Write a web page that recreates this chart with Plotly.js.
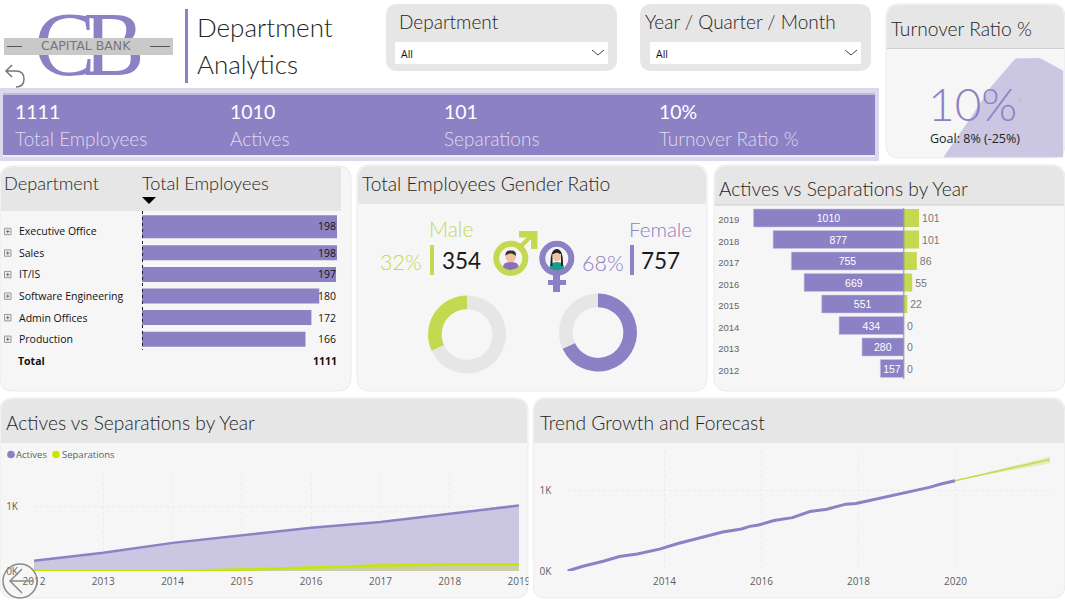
<!DOCTYPE html>
<html><head><meta charset="utf-8">
<script src="https://cdn.plot.ly/plotly-3.0.1.min.js"></script>
<style>html,body{margin:0;padding:0;background:#fff;overflow:hidden}</style></head>
<body><div id="chart" style="width:1065px;height:603px"></div>
<script>
// ---- data ----
const departments = ['Executive Office','Sales','IT/IS','Software Engineering','Admin Offices','Production'];
const deptEmployees = [198,198,197,180,172,166];
const totalEmployees = 1111;
const genderLabels = ['Male','Female'];
const genderCounts = [354,757];
const funnelYears = ['2019','2018','2017','2016','2015','2014','2013','2012'];
const funnelActives = [1010,877,755,669,551,434,280,157];
const funnelSeparations = [101,101,86,55,22,0,0,0];
const areaYears = [2012,2013,2014,2015,2016,2017,2018,2019];
const areaActives = [157,280,434,551,669,755,877,1010];
const areaSeparations = [0,0,0,22,55,86,101,101];
const trendYears = [2012.0,2012.32,2012.74,2013.07,2013.44,2013.9,2014.28,2014.78,2015.2,2015.59,2015.76,2015.94,2016.26,2016.64,2017.0,2017.35,2017.74,2017.95,2018.51,2019.0,2019.46,2019.7,2019.99];
const trendValues = [0,59,121,180,213,272,343,423,485,523,556,573,628,665,741,770,833,841,916,983,1042,1084,1125];
const forecastYears = [2019.99,2021.95];
const forecastValues = [1125,1390];
const forecastUpper = [1125,1427];
const forecastLower = [1125,1343];
const turnoverYears = [2014,2015,2016,2017,2018,2019];
const turnoverPct = [0,4,8.2,11.4,11.5,10];
const kpiValues = ['1111','1010','101','10%'];
const kpiLabels = ['Total Employees','Actives','Separations','Turnover Ratio %'];

// ---- style ----
const PURPLE='#8c81c4', GREEN='#c4d94f', LIME='#c8e600', LILAC='#cbc6e2', HEAD='#e6e6e6', CARD='#f6f6f6', INK='#252423', GREY='#605e5c';
const W=1065,H=603, UI='Lato, "Open Sans", sans-serif', UI2='"Open Sans", sans-serif';
const X=x=>x/W, Y=y=>1-y/H;
const dx=(a,b)=>[X(a),X(b)], dy=(top,bot)=>[Y(bot),Y(top)];

function pth(s){ // pixel path -> paper path
  let i=0; return s.replace(/-?\d+(\.\d+)?/g,m=>{const v=+m; return ((i++%2===0)?X(v):Y(v)).toFixed(5);});
}
function rr(x0,y0,x1,y1,tl,tr,br,bl){
  return pth(`M${x0+tl} ${y0} L${x1-tr} ${y0} Q${x1} ${y0} ${x1} ${y0+tr} L${x1} ${y1-br} Q${x1} ${y1} ${x1-br} ${y1} L${x0+bl} ${y1} Q${x0} ${y1} ${x0} ${y1-bl} L${x0} ${y0+tl} Q${x0} ${y0} ${x0+tl} ${y0} Z`);
}
const shapes=[], annotations=[];
function path(d,fill,line,lw,layer){shapes.push({type:'path',xref:'paper',yref:'paper',path:pth(d),fillcolor:fill||'rgba(0,0,0,0)',line:{color:line||'rgba(0,0,0,0)',width:lw||0},layer:layer||'below'});}
function rect(x0,y0,x1,y1,fill,layer){shapes.push({type:'rect',xref:'paper',yref:'paper',x0:X(x0),x1:X(x1),y0:Y(y0),y1:Y(y1),fillcolor:fill,line:{width:0},layer:layer||'below'});}
function circ(cx,cy,r,fill,line,lw,layer){shapes.push({type:'circle',xref:'paper',yref:'paper',x0:X(cx-r),x1:X(cx+r),y0:Y(cy-r),y1:Y(cy+r),fillcolor:fill||'rgba(0,0,0,0)',line:{color:line||'rgba(0,0,0,0)',width:lw||0},layer:layer||'below'});}
function seg(x0,y0,x1,y1,color,lw,dash,layer){shapes.push({type:'line',xref:'paper',yref:'paper',x0:X(x0),x1:X(x1),y0:Y(y0),y1:Y(y1),line:{color,width:lw,dash:dash||'solid'},layer:layer||'below'});}
function T(text,x,y,size,color,o){o=o||{};annotations.push({text,x:X(x),y:Y(y),xref:'paper',yref:'paper',xanchor:o.a||'left',yanchor:'middle',showarrow:false,borderpad:0,borderwidth:0,
  font:{family:o.f||UI,size,color,weight:o.w||400}});}
function card(x0,y0,x1,y1,headBot,r,headRight){
  shapes.push({type:'path',xref:'paper',yref:'paper',path:rr(x0,y0,x1,y1,r,r,r,r),fillcolor:CARD,line:{color:'#ebebeb',width:1},layer:'below'});
  shapes.push({type:'path',xref:'paper',yref:'paper',path:rr(x0+1,y0+1,(headRight||x1)-1,headBot,r,headRight?0:r,0,0),fillcolor:HEAD,line:{width:0},layer:'below'});
}
function rrFill(x0,y0,x1,y1,r,fill,layer){shapes.push({type:'path',xref:'paper',yref:'paper',path:rr(x0,y0,x1,y1,r,r,r,r),fillcolor:fill,line:{width:0},layer:layer||'below'});}

// ---- header area ----
rect(185,9,188,83,PURPLE);
T('Department',197,27.5,26,INK,{w:300});
T('Analytics',197,63.5,26,INK,{w:300});
// logo band (above the serif letters)
rect(4,38,173,55,'#c9c9c9','above');
seg(7,46.5,22,46.5,'#555',1,'solid','above');
seg(150,46.5,170,46.5,'#555',1,'solid','above');
T('CAPITAL BANK',86,45.5,12.5,'#777777',{a:'center',f:'"DejaVu Sans"'});
// undo arrow
path('M12 65 L6 71 L12 77 M6 71 L16 71 Q24 71 24 79 Q24 87 16 87','',"#777",1.5,'above');

// slicers
[[386,617,395,608,'Department',399],[640,871,650,861,'Year / Quarter / Month',645]].forEach(s=>{
  rrFill(s[0],4,s[1],71,12,HEAD);
  rect(s[2],42,s[3],64,'#ffffff');
  T(s[4],s[5],21.5,19,INK,{w:300});
  T('All',s[2]+6,54,10.5,'#111',{f:UI2});
  path(`M${s[3]-16} 50 L${s[3]-10} 55 L${s[3]-4} 50`,'','#444',1);
});

// KPI strip
rect(0,88,879,161,'#dcd9ed');
rect(3,93,875,155,PURPLE);
seg(3,156,875,156,'#ffffff',1);
seg(3,94,875,94,'#f3f2fa',1);
[14.5,229.5,443.5,658.5].forEach((x,i)=>{
  T(kpiValues[i],x,111.5,19.5,'#ffffff',{w:400});
  T(kpiLabels[i],x,138.5,19,'#dedbf0',{w:300});
});

// Turnover card
card(886,4,1065,158,48,13);
seg(887,48.5,1064,48.5,'#cfcfcf',1);
T('Turnover Ratio %',891,28,19.2,INK,{w:300});
T('10%',972,103,46,PURPLE,{a:'center',w:300});
T('!',1019.5,100,12,'#b5aed9',{a:'center',w:300});
T('Goal: 8% (-25%)',975,138,12.5,INK,{a:'center',f:UI2});

// Department table card
card(0,166,351,391,211,13,342);
T('Department',4,183,18.2,INK,{w:300});
T('Total Employees',142,183,18.2,INK,{w:300});
path('M142 197 L156 197 L149 204 Z','#000');
departments.forEach((d,i)=>{
  annotations.push({text:d,x:X(17.5),xref:'paper',y:d,yref:'y',xanchor:'left',yanchor:'middle',showarrow:false,borderpad:0,font:{family:UI2,size:10.5,color:'#111'}});
  annotations.push({text:String(deptEmployees[i]),x:X(337),xref:'paper',y:d,yref:'y',yshift:i===0?5:0,xanchor:'right',yanchor:'middle',showarrow:false,borderpad:0,font:{family:UI2,size:10.5,color:'#111'}});
  const cy=231.5+21.55*i;
  shapes.push({type:'rect',xref:'paper',yref:'paper',x0:X(4.5),x1:X(11),y0:Y(cy-3.2),y1:Y(cy+3.2),fillcolor:'#eeeeee',line:{color:'#999',width:1},layer:'below'});
  seg(6,cy,9.5,cy,'#777',1); seg(7.75,cy-1.8,7.75,cy+1.8,'#777',1);
});
T('Total',18,361,10.5,'#111',{w:700,f:UI2});
T(String(totalEmployees),337,361,10.5,'#111',{a:'right',w:700,f:UI2});
seg(142.5,211,142.5,350,'#222',1,'dot','above');

// Gender card
card(357,165,707,391,204,13);
T('Total Employees Gender Ratio',362,184,19.2,INK,{w:300});
T('Male',451,229,21,GREEN,{a:'center',w:300});
T('32%',400.5,262,21.5,GREEN,{a:'center',w:300});
rect(430,245,434,275,GREEN);
T(String(genderCounts[0]),442,260.5,22.5,'#1a1a1a',{w:400});
T('Female',660,229,20.5,PURPLE,{a:'center',w:300});
T('68%',603,263,21.5,PURPLE,{a:'center',w:300});
rect(630,245,634,275,PURPLE);
T(String(genderCounts[1]),641,260.5,22.5,'#1a1a1a',{w:400});
// male symbol
seg(519,248,532,235,GREEN,4.5);
path('M519 231 L537.5 231 L537.5 249 L531 249 L531 237.5 L519 237.5 Z',GREEN);
circ(510.8,258.3,14.5,'#f4f4f4',GREEN,6);
// female symbol
rect(553,274,560,292,PURPLE);
rect(548,280,566,285,PURPLE);
circ(556.8,258.3,14.5,'#f4f4f4',PURPLE,6);
// faces
path('M503 267 Q503 262 510.8 262 Q518.6 262 518.6 267 Q515 270 510.8 270 Q506 270 503 267 Z','#8c6fb5');
circ(510.8,257,5.2,'#f2c2a0');
path('M505.5 256 Q505 250 510.8 250.5 Q516.5 250 516 256 Q513 253 510.8 253.5 Q508 253 505.5 256 Z','#333');
path('M549.5 268 Q549.5 262 556.8 262 Q564 262 564 268 Q560 270.5 556.8 270.5 Q553 270.5 549.5 268 Z','#1c9a8e');
path('M550.5 266 Q550 249 556.8 249 Q563.5 249 563 266 L561 266 L561 254 L552.5 254 L552.5 266 Z','#222');
circ(556.8,257,4.2,'#f2c2a0');

// Funnel card
card(714,165,1065,391,205,13);
seg(715,205,1064,205,'#cfcfcf',1);
T('Actives vs Separations by Year',719,188,19.2,INK,{w:300});
seg(903.8,208,903.8,379,'#8a8a8a',1,'solid','above');

// Area card
card(0,398,528,598,443,13);
T('Actives vs Separations by Year',6,422,19.2,INK,{w:300});
circ(11,454.5,3.8,PURPLE);
T('Actives',16,454.5,9.5,GREY,{f:UI2});
circ(56,454.5,3.8,LIME);
T('Separations',62,454.5,9.5,GREY,{f:UI2});
rect(528.5,560,533,599,'#ffffff','above');
circ(20,581,17,'rgba(255,255,255,0.05)','#8a8a8a',1.5,'above');
path('M22 569 L10 581 L22 593 M10 581 L34 581','','#8a8a8a',1.5,'above');

// Trend card
card(533,398,1065,598,443,13);
T('Trend Growth and Forecast',540,422,19.2,INK,{w:300});

// ---- traces ----
const axisBase={fixedrange:true,showline:false,zeroline:false,showgrid:false,ticks:''};
const tickF={family:UI2,size:10,color:GREY};
const gridC='#ebebeb';
const data=[
 // logo letters
 {type:'scatter',mode:'text',xaxis:'x7',yaxis:'y7',x:[65,114],y:[51.5,51.5],text:['C','B'],textposition:'middle center',cliponaxis:false,textfont:{family:'"Liberation Serif"',size:92,color:PURPLE},hoverinfo:'skip'},
 // KPI sparkline
 {type:'scatter',mode:'lines',xaxis:'x6',yaxis:'y6',x:turnoverYears,y:turnoverPct,fill:'tozeroy',fillcolor:LILAC,line:{color:LILAC,width:0.5},hoverinfo:'skip'},
 // department bars
 {type:'bar',orientation:'h',xaxis:'x',yaxis:'y',y:departments,x:deptEmployees,width:departments.map((d,i)=>i===0?23/21.6:15/21.6),offset:departments.map((d,i)=>i===0?-0.74:-15/43.2),marker:{color:PURPLE},hoverinfo:'skip'},
 // funnel
 {type:'bar',orientation:'h',xaxis:'x2',yaxis:'y2',y:funnelYears,x:funnelActives,width:0.84,marker:{color:PURPLE,line:{color:'#c9c5e2',width:0.6}},text:funnelActives.map(String),textposition:'inside',insidetextanchor:'middle',textangle:0,constraintext:'none',textfont:{family:'"Liberation Sans"',size:10.5,color:'#ffffff'},cliponaxis:false,hoverinfo:'skip'},
 {type:'bar',orientation:'h',xaxis:'x3',yaxis:'y3',y:funnelYears,x:funnelSeparations,width:0.84,marker:{color:GREEN},text:funnelSeparations.map(String),textposition:'outside',textangle:0,constraintext:'none',textfont:{family:'"Liberation Sans"',size:10.5,color:'#777'},cliponaxis:false,hoverinfo:'skip'},
 // area chart
 {type:'scatter',mode:'lines',name:'Actives',xaxis:'x4',yaxis:'y4',x:areaYears,y:areaActives,fill:'tozeroy',fillcolor:LILAC,line:{color:PURPLE,width:2.5},cliponaxis:false,hoverinfo:'skip'},
 {type:'scatter',mode:'lines',name:'Separations',xaxis:'x4',yaxis:'y4',x:areaYears,y:areaSeparations,fill:'tozeroy',fillcolor:'rgba(200,230,0,0.25)',line:{color:LIME,width:2.5},cliponaxis:false,hoverinfo:'skip'},
 // trend
 {type:'scatter',mode:'lines',xaxis:'x5',yaxis:'y5',x:forecastYears,y:forecastLower,line:{color:'rgba(0,0,0,0)',width:0},hoverinfo:'skip'},
 {type:'scatter',mode:'lines',xaxis:'x5',yaxis:'y5',x:forecastYears,y:forecastUpper,fill:'tonexty',fillcolor:'rgba(196,217,79,0.35)',line:{color:'rgba(0,0,0,0)',width:0},hoverinfo:'skip'},
 {type:'scatter',mode:'lines',xaxis:'x5',yaxis:'y5',x:forecastYears,y:forecastValues,line:{color:GREEN,width:1.5},hoverinfo:'skip'},
 {type:'scatter',mode:'lines',xaxis:'x5',yaxis:'y5',x:trendYears,y:trendValues,line:{color:PURPLE,width:3},hoverinfo:'skip'},
 // donuts (the coloured slice closes at twelve o'clock on the male ring)
 {type:'pie',labels:['Other',genderLabels[0]],values:[genderCounts[1],genderCounts[0]],hole:0.65,sort:false,direction:'clockwise',rotation:0,textinfo:'none',hoverinfo:'skip',marker:{colors:[HEAD,GREEN]},domain:{x:dx(428,506),y:dy(295.5,373.5)}},
 {type:'pie',labels:[genderLabels[1],'Other'],values:[genderCounts[1],genderCounts[0]],hole:0.65,sort:false,direction:'clockwise',rotation:0,textinfo:'none',hoverinfo:'skip',marker:{colors:[PURPLE,HEAD]},domain:{x:dx(559,637),y:dy(293.5,371.5)}}
];

const layout={
 width:W,height:H,autosize:false,margin:{l:0,r:0,t:0,b:0},paper_bgcolor:'#ffffff',plot_bgcolor:'rgba(0,0,0,0)',showlegend:false,
 shapes,annotations,bargap:0.16,
 xaxis:{...axisBase,domain:dx(142,337),range:[0,198],showticklabels:false},
 yaxis:{...axisBase,domain:dy(209.6,350),type:'category',categoryorder:'array',categoryarray:departments,range:[5.5,-1],showticklabels:false},
 xaxis2:{...axisBase,domain:dx(753.3,903.7),range:[1010,0],anchor:'y2',showticklabels:false},
 yaxis2:{...axisBase,domain:dy(207.25,379.25),anchor:'x2',type:'category',categoryorder:'array',categoryarray:funnelYears,range:[7.5,-0.5],ticklabelstandoff:13,ticklabelshift:-2,tickfont:{family:'"Liberation Sans"',size:9.5,color:'#666'}},
 xaxis3:{...axisBase,domain:dx(904,1004),range:[0,671],anchor:'y3',showticklabels:false},
 yaxis3:{...axisBase,domain:dy(207.25,379.25),anchor:'x3',type:'category',categoryorder:'array',categoryarray:funnelYears,range:[7.5,-0.5],showticklabels:false},
 xaxis4:{...axisBase,domain:dx(34,519),range:[2012,2019],anchor:'y4',tickvals:areaYears,ticktext:areaYears.map(String),tickfont:tickF,showgrid:true,gridcolor:gridC,griddash:'dot',ticklabelstandoff:3},
 yaxis4:{...axisBase,domain:dy(476,571),range:[0,1466],anchor:'x4',tickvals:[0,1000],ticktext:['0K','1K'],tickfont:tickF,showgrid:true,gridcolor:gridC,griddash:'dot',ticklabelstandoff:15},
 xaxis5:{...axisBase,domain:dx(567.4,1050),range:[2012,2021.95],anchor:'y5',tickvals:[2014,2016,2018,2020],ticktext:['2014','2016','2018','2020'],tickfont:tickF,showgrid:true,gridcolor:gridC,griddash:'dot',ticklabelstandoff:3},
 yaxis5:{...axisBase,domain:dy(451,571),range:[0,1495],anchor:'x5',tickvals:[0,1000],ticktext:['0K','1K'],tickfont:tickF,showgrid:true,gridcolor:gridC,griddash:'dot',ticklabelstandoff:15},
 xaxis6:{...axisBase,domain:dx(943.4,1063.4),range:[2014,2019],anchor:'y6',showticklabels:false},
 yaxis6:{...axisBase,domain:dy(58,157.5),range:[0,11.5],anchor:'x6',showticklabels:false},
 xaxis7:{...axisBase,domain:dx(0,180),range:[0,180],anchor:'y7',showticklabels:false},
 yaxis7:{...axisBase,domain:dy(0,90),range:[90,0],anchor:'x7',showticklabels:false}
};
Plotly.newPlot('chart',data,layout,{displayModeBar:false,staticPlot:true});
</script></body></html>
